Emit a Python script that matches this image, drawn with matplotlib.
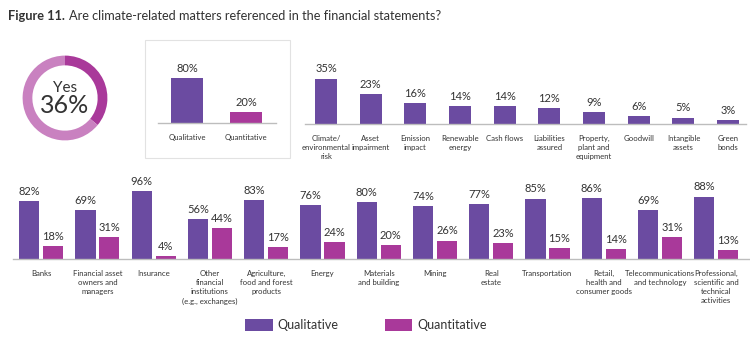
import matplotlib.pyplot as plt
from matplotlib.patches import Rectangle
import numpy as np

plt.rcParams['font.family'] = ['Lato', 'DejaVu Sans']

# ---- data ----
yes_share = 36

box_labels = ['Qualitative', 'Quantitative']
box_values = [80, 20]

topic_labels = ['Climate/\nenvironmental\nrisk', 'Asset\nimpairment', 'Emission\nimpact',
                'Renewable\nenergy', 'Cash flows', 'Liabilities\nassured',
                'Property,\nplant and\nequipment', 'Goodwill', 'Intangible\nassets', 'Green\nbonds']
topic_values = [35, 23, 16, 14, 14, 12, 9, 6, 5, 3]

sector_labels = ['Banks', 'Financial asset\nowners and\nmanagers', 'Insurance',
                 'Other\nfinancial\ninstitutions\n(e.g., exchanges)',
                 'Agriculture,\nfood and forest\nproducts', 'Energy', 'Materials\nand building',
                 'Mining', 'Real\nestate', 'Transportation',
                 'Retail,\nhealth and\nconsumer goods', 'Telecommunications\nand technology',
                 'Professional,\nscientific and\ntechnical\nactivities']
sector_qual = [82, 69, 96, 56, 83, 76, 80, 74, 77, 85, 86, 69, 88]
sector_quant = [18, 31, 4, 44, 17, 24, 20, 26, 23, 15, 14, 31, 13]

PURPLE = '#6b4ba1'
MAGENTA = '#a9399a'
LIGHT = '#c981c0'
TEXT = '#333333'
AXIS = '#bdbdbd'

W, H = 750, 339
fig = plt.figure(figsize=(W / 100, H / 100), dpi=100)


def px_axes(left, top, right, bottom):
    """Axes placed by pixel edges measured from the top-left corner."""
    return fig.add_axes([left / W, 1 - bottom / H, (right - left) / W, (bottom - top) / H])


def clean(ax):
    for s in ['top', 'right', 'left']:
        ax.spines[s].set_visible(False)
    ax.spines['bottom'].set_color(AXIS)
    ax.spines['bottom'].set_linewidth(1.0)
    ax.set_yticks([])
    ax.tick_params(axis='x', length=0, labelsize=5.6, labelcolor=TEXT)
    ax.set_facecolor('none')


def value_labels(ax, xs, vals, size=8):
    for x, v in zip(xs, vals):
        ax.annotate(f'{v}%', (x, v), xytext=(0, 3), textcoords='offset points',
                    ha='center', va='bottom', fontsize=size, color=TEXT, annotation_clip=False)


# title: bold figure number followed by the question
t1 = fig.text(8 / W, 1 - 16 / H, 'Figure 11.', fontsize=9.2, fontweight='bold', color=TEXT, va='center')
fig.canvas.draw()
bb = t1.get_window_extent()
fig.text(bb.x1 / W + 4 / W, 1 - 16 / H,
         'Are climate-related matters referenced in the financial statements?',
         fontsize=9.2, color=TEXT, va='center')

# donut
ax_d = px_axes(12, 45, 118, 151)
ax_d.pie([yes_share, 100 - yes_share], colors=[MAGENTA, LIGHT], startangle=90, counterclock=False,
         wedgeprops=dict(width=0.23, edgecolor='none'))
ax_d.set_aspect('equal')
ax_d.text(0, 0.24, 'Yes', ha='center', va='center', fontsize=11, color=TEXT)
ax_d.text(0, -0.18, f'{yes_share}%', ha='center', va='center', fontsize=18, color=TEXT)

# boxed qualitative vs quantitative
fig.patches.append(Rectangle((145 / W, 1 - 158 / H), 145 / W, 118 / H, transform=fig.transFigure,
                             facecolor='none', edgecolor='#e2e2e2', linewidth=0.8))
ax_b = px_axes(158, 67, 276, 123)
ax_b.bar(range(2), box_values, width=0.53, color=[PURPLE, MAGENTA])
ax_b.set_xlim(-0.49, 1.51)
ax_b.set_ylim(0, 100)
clean(ax_b)
ax_b.set_xticks(range(2), box_labels)
ax_b.tick_params(axis='x', pad=8)
value_labels(ax_b, range(2), box_values)

# topics referenced
ax_t = px_axes(305, 72, 746, 124)
xt = np.arange(len(topic_values))
ax_t.bar(xt, topic_values, width=0.49, color=PURPLE)
ax_t.set_xlim(-0.47, 9.4)
ax_t.set_ylim(0, 40)
clean(ax_t)
ax_t.set_xticks(xt, topic_labels, linespacing=1.35, va='top')
ax_t.tick_params(axis='x', pad=8)
value_labels(ax_t, xt, topic_values)

# by sector
ax_s = px_axes(13, 188, 750, 259)
xs = np.arange(len(sector_qual))
off = 0.213
ax_s.bar(xs - off, sector_qual, width=0.36, color=PURPLE, label='Qualitative')
ax_s.bar(xs + off, sector_quant, width=0.36, color=MAGENTA, label='Quantitative')
ax_s.set_xlim(-0.5, 12.6)
ax_s.set_ylim(0, 100)
clean(ax_s)
ax_s.set_xticks(xs, sector_labels, linespacing=1.35, va='top')
ax_s.tick_params(axis='x', pad=8)
value_labels(ax_s, xs - off, sector_qual)
value_labels(ax_s, xs + off, sector_quant)

fig.legend(loc='center', bbox_to_anchor=(366 / W, 1 - 325 / H), ncol=2, frameon=False,
           fontsize=9, handlelength=2.2, handleheight=1.1, columnspacing=3.7, handletextpad=0.4,
           labelcolor=TEXT)

fig.savefig('out.png', dpi=100, facecolor='white')
